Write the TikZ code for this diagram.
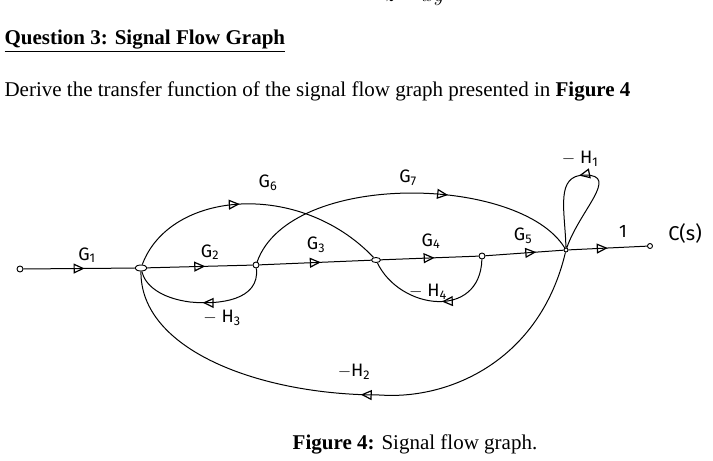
\documentclass[tikz,border=0pt]{standalone}
\usepackage{fontspec}
\setmainfont{Liberation Serif}
\newfontfamily\hand{Fira Sans}
\usetikzlibrary{decorations.markings,arrows.meta,shapes.geometric}
\begin{document}
\begin{tikzpicture}[x=1pt,y=-1pt,
  nd/.style={circle,draw,line width=0.9pt,inner sep=0pt,minimum size=6pt,fill=white},
  br/.style={line width=1pt,postaction={decorate},decoration={markings,mark=at position #1 with {\arrow{Triangle[open,length=11pt,width=10pt,line width=1.2pt]}}}},
  br/.default=0.55,
  lab/.style={font=\hand\fontsize{18}{18}\selectfont}]
\useasboundingbox (0,0) rectangle (713,461);
\node[font=\fontsize{22}{22}\selectfont] (top) at (415,-1) {$z = xy$};
\node[anchor=west,font=\fontsize{21}{24}\selectfont\bfseries] (t) at (1,41) {\underline{Question 3: Signal Flow Graph}};
\node[anchor=west,font=\fontsize{21}{24}\selectfont] (d) at (1,91) {Derive the transfer function of the signal flow graph presented in \textbf{Figure 4}};
\node[font=\fontsize{21}{24}\selectfont] (cap) at (415,444) {\textbf{Figure 4:} Signal flow graph.};
\node[nd] (n0) at (20,269) {};
\node[nd,ellipse,minimum width=12pt,minimum height=6pt] (n1) at (141,268) {};
\node[nd] (n2) at (256,265) {};
\node[nd,ellipse,minimum width=9pt,minimum height=5pt] (n3) at (376,260) {};
\node[nd] (n4) at (482,256) {};
\node[nd,minimum size=4pt] (n5) at (566,250) {};
\node[nd,minimum size=5pt] (n6) at (650,246) {};
\draw[br] (n0) -- (n1);
\draw[br] (n1) -- (n2);
\draw[br] (n2) -- (n3);
\draw[br] (n3) -- (n4);
\draw[br=0.65] (n4) -- (n5);
\draw[br=0.5] (n5) -- (n6);
\draw[br=0.5] (n2) .. controls (260,300) and (220,305) .. (190,302) .. controls (160,298) and (145,285) .. (n1);
\draw[br=0.45] (n1) .. controls (170,190) and (300,180) .. (n3);
\draw[br=0.62] (n2) .. controls (290,170) and (520,175) .. (n5);
\draw[br=0.45] (n4) .. controls (480,320) and (400,310) .. (n3);
\draw[br=0.55] (n5) .. controls (580,210) and (620,175) .. (585,175) .. controls (555,175) and (565,210) .. (n5);
\draw[br=0.5] (n5) .. controls (540,360) and (450,400) .. (380,395) .. controls (260,395) and (140,350) .. (n1);
\node[lab] (g1) at (87,255) {G\textsubscript{1}};
\node[lab] (g2) at (210,252) {G\textsubscript{2}};
\node[lab] (g3) at (316,245) {G\textsubscript{3}};
\node[lab] (g4) at (431,241) {G\textsubscript{4}};
\node[lab] (g5) at (523,236) {G\textsubscript{5}};
\node[lab] (g6) at (268,183) {G\textsubscript{6}};
\node[lab] (g7) at (408,178) {G\textsubscript{7}};
\node[lab] (h1) at (580,159) {$-$ H\textsubscript{1}};
\node[lab] (h2) at (354,372) {$-$H\textsubscript{2}};
\node[lab] (h3) at (222,318) {$-$ H\textsubscript{3}};
\node[lab] (h4) at (428,292) {$-$ H\textsubscript{4}};
\node[lab] (one) at (623,231) {1};
\node[lab,font=\hand\fontsize{20}{20}\selectfont] (cs) at (685,233) {C(s)};
\end{tikzpicture}
\end{document}
